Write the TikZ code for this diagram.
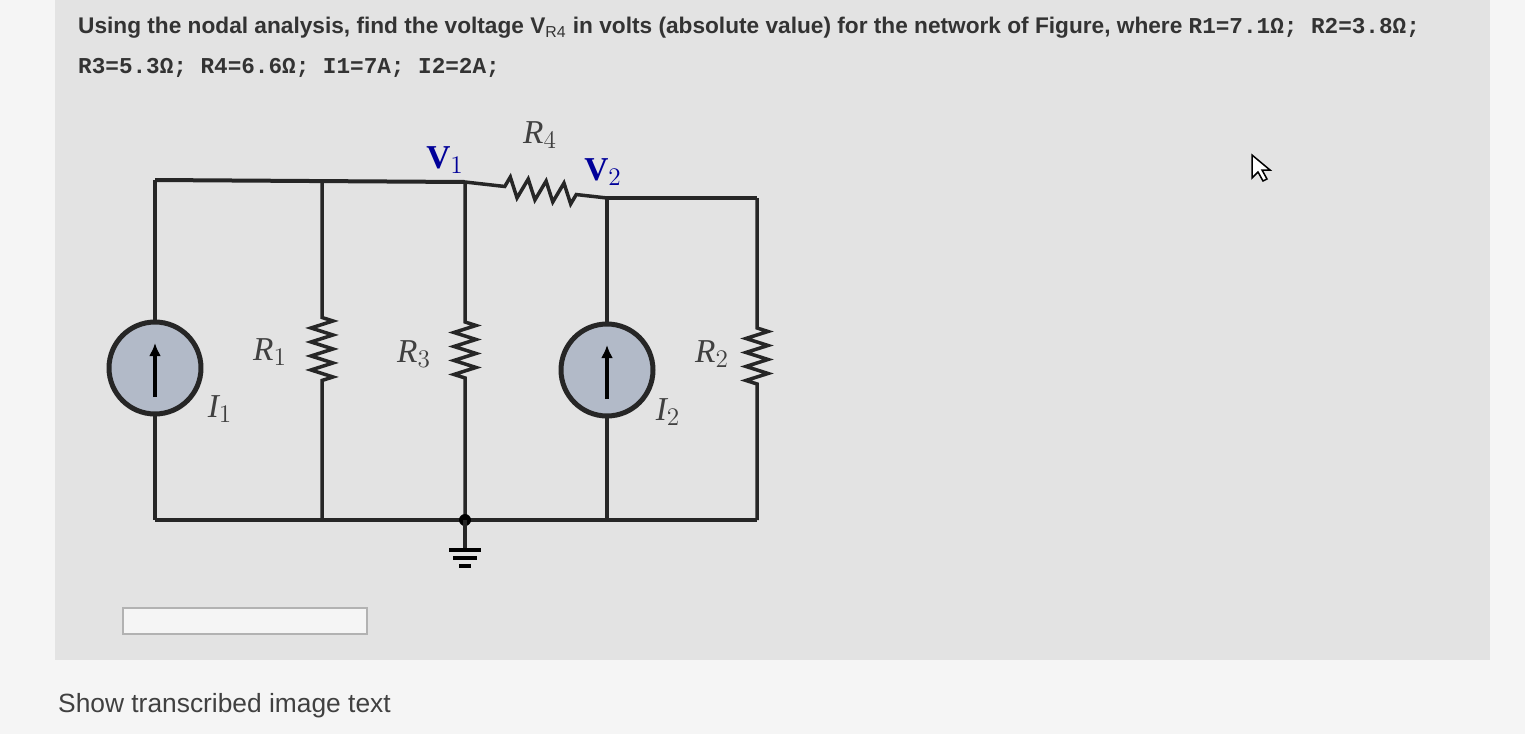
\documentclass[tikz,border=0pt]{standalone}
\usepackage{fontspec}
\setmainfont{Liberation Sans}
\newfontfamily\mymono{Liberation Mono}
\newfontfamily\myserif{Liberation Serif}
\usetikzlibrary{decorations.pathmorphing,arrows.meta}
\definecolor{srcfill}{RGB}{178,186,200}
\tikzset{
 wire/.style={line width=0.08cm,draw=black!85},
 resist/.style={line width=0.07cm,draw=black!85,decorate,decoration={zigzag,segment length=0.28cm,amplitude=0.22cm,pre length=#1,post length=#1}},
 src/.style={circle,draw=black!85,line width=0.1cm,fill=srcfill,minimum size=1.84cm,inner sep=0pt},
 lab/.style={font=\myserif\itshape\fontsize{19}{19}\selectfont,text=black!75},
 vlab/.style={font=\myserif\bfseries\fontsize{19}{19}\selectfont,text=blue!60!black},
 uparrow/.style={-{Latex[length=0.26cm,width=0.24cm]},line width=0.08cm},
}
\begin{document}
\begin{tikzpicture}[x=0.02cm,y=-0.02cm]
\useasboundingbox (0,0) rectangle (1525,734);
\fill[gray!8] (0,0) rectangle (1525,734);
\fill[gray!22] (55,0) rectangle (1490,660);
\node[anchor=west,font=\bfseries\fontsize{12.9}{15}\selectfont,text=black!80] (t1) at (72,28)
 {Using the nodal analysis, find the voltage V$_{\mathrm{R4}}$ in volts (absolute value) for the network of Figure, where {\mymono R1=7.1Ω; R2=3.8Ω;}};
\node[anchor=west,font=\bfseries\fontsize{12.9}{15}\selectfont,text=black!80] (t2) at (72,68)
 {\mymono R3=5.3Ω; R4=6.6Ω; I1=7A; I2=2A;};
\coordinate (tl) at (155,180);
\coordinate (t1r) at (322,180);
\coordinate (v1) at (465,182);
\coordinate (v2) at (607,198);
\coordinate (tr) at (757,198);
\coordinate (bl) at (155,520);
\coordinate (b1) at (322,520);
\coordinate (b3) at (465,520);
\coordinate (b2) at (607,520);
\coordinate (br) at (757,520);
\coordinate (g) at (465,550);
\node[src] (s1) at (155,368) {};
\node[src] (s2) at (607,370) {};
\draw[uparrow] ([yshift=-0.58cm]s1.center) -- ([yshift=0.5cm]s1.center);
\draw[uparrow] ([yshift=-0.58cm]s2.center) -- ([yshift=0.5cm]s2.center);
\draw[wire] (tl) -- (v1);
\draw[line width=0.07cm,draw=black!85,decorate,decoration={zigzag,segment length=0.36cm,amplitude=0.2cm,pre length=0.8cm,post length=0.6cm}] (v1) -- (v2);
\draw[wire] (v2) -- (tr);
\draw[wire] (bl) -- (br);
\draw[wire] (tl) -- (s1);
\draw[wire] (s1) -- (bl);
\draw[wire] (v2) -- (s2);
\draw[wire] (s2) -- (b2);
\draw[resist=2.75cm] (t1r) -- (b1);
\draw[resist=2.8cm] (v1) -- (b3);
\draw[resist=2.6cm] (tr) -- (br);
\fill (b3) circle[radius=6];
\draw[wire] (b3) -- (g);
\draw[line width=0.07cm] (449,550) -- (481,550) (453,558) -- (477,558) (459,566) -- (471,566);
\node[vlab] (lv1) at (445,160) {V$_1$};
\node[vlab] (lv2) at (603,172) {V$_2$};
\node[lab] (lr4) at (540,135) {R$_4$};
\node[lab] (lr1) at (270,352) {R$_1$};
\node[lab] (lr3) at (414,354) {R$_3$};
\node[lab] (lr2) at (712,354) {R$_2$};
\node[lab] (li1) at (220,409) {I$_1$};
\node[lab] (li2) at (668,412) {I$_2$};
\draw[fill=white,line width=0.03cm] (1252,155) -- (1252,178) -- (1258,172) -- (1263,181) -- (1267,179) -- (1262,170) -- (1270,170) -- cycle;
\draw[fill=gray!8,draw=gray!60,line width=0.024cm] (123,608) rectangle (367,634);
\node[anchor=west,font=\fontsize{15}{17}\selectfont,text=black!75] (show) at (52,706) {Show transcribed image text};
\end{tikzpicture}
\end{document}
